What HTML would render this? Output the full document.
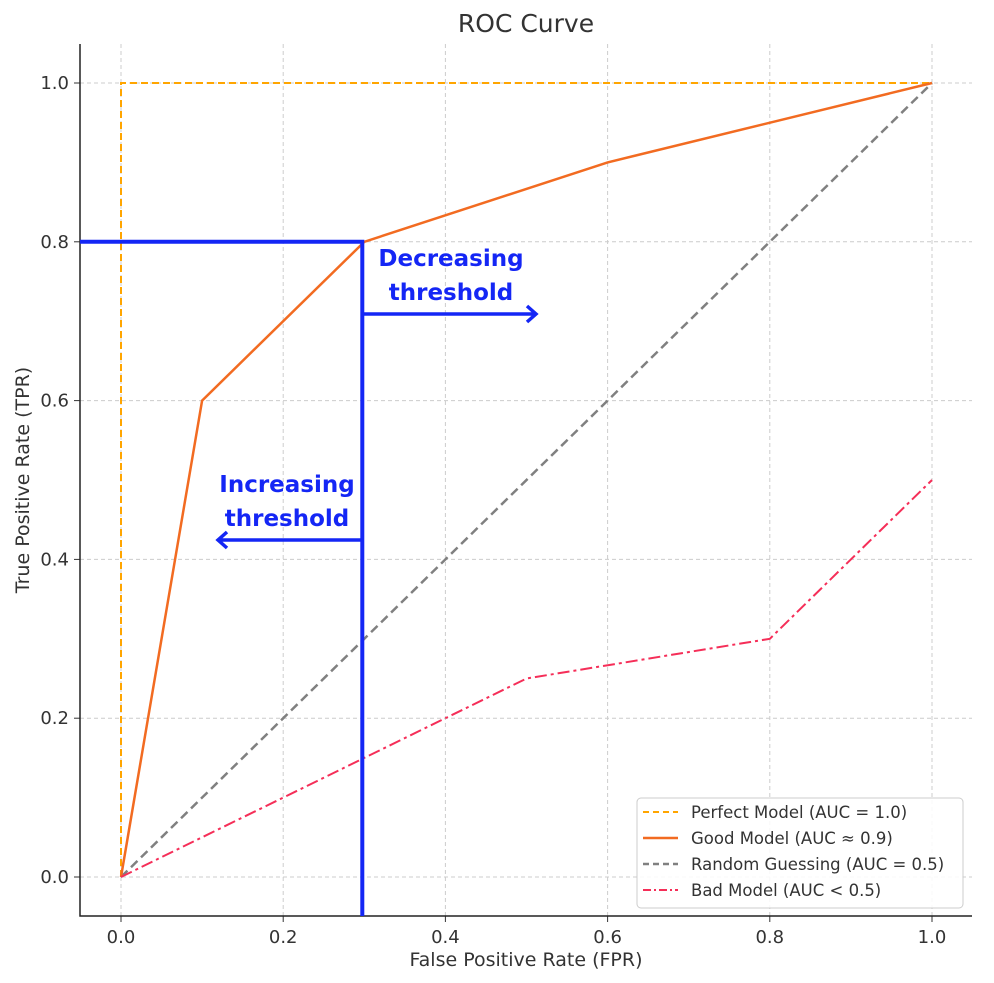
<!DOCTYPE html>
<html><head><meta charset="utf-8"><style>
body{margin:0;background:#fff}
svg{display:block;font-family:"DejaVu Sans","Liberation Sans",sans-serif}
</style></head><body>
<svg id="chart" width="994" height="983" viewBox="0 0 994 983">
<text x="526" y="32" font-size="25" text-anchor="middle" fill="#333">ROC Curve</text>
<g id="grid"></g>
<g id="series"></g>
<g id="axes"></g>
<g id="annot"></g>
<text x="526" y="966" font-size="19" text-anchor="middle" fill="#333">False Positive Rate (FPR)</text>
<text transform="translate(29,480) rotate(-90)" font-size="19" text-anchor="middle" fill="#333">True Positive Rate (TPR)</text>
<g>
<rect x="637" y="798" width="326" height="110" rx="4" fill="#fff" fill-opacity="0.85" stroke="#ccc"/>
<g><line x1="643" y1="812" x2="678" y2="812" stroke="#FFA500" stroke-width="2" stroke-dasharray="6,4"/><text x="691" y="818" font-size="16.5" fill="#333">Perfect Model (AUC = 1.0)</text></g>
<g><line x1="643" y1="838" x2="678" y2="838" stroke="#F26B21" stroke-width="2.5"/><text x="691" y="844" font-size="16.5" fill="#333">Good Model (AUC ≈ 0.9)</text></g>
<g><line x1="643" y1="864" x2="678" y2="864" stroke="#808080" stroke-width="2.5" stroke-dasharray="6,4"/><text x="691" y="870" font-size="16.5" fill="#333">Random Guessing (AUC = 0.5)</text></g>
<g><line x1="643" y1="890" x2="678" y2="890" stroke="#F52E58" stroke-width="2" stroke-dasharray="8,3,2,3"/><text x="691" y="896" font-size="16.5" fill="#333">Bad Model (AUC &lt; 0.5)</text></g>
</g>
</svg>
<script>
const xTicks=[0,0.2,0.4,0.6,0.8,1.0];
const yTicks=[0,0.2,0.4,0.6,0.8,1.0];
const tickLabels=["0.0","0.2","0.4","0.6","0.8","1.0"];
const perfectX=[0,0,1];const perfectY=[0,1,1];
const goodX=[0,0.1,0.3,0.6,1];const goodY=[0,0.6,0.8,0.9,1];
const randomX=[0,1];const randomY=[0,1];
const badX=[0,0.5,0.8,1];const badY=[0,0.25,0.3,0.5];
const thresholdX=0.3, thresholdY=0.8;
const NS="http://www.w3.org/2000/svg";
const L=80,R=972,T=44,B=916;
const sx=v=>121+v*811, sy=v=>877-v*794;
function mk(p,tag,a){const e=document.createElementNS(NS,tag);for(const k in a)e.setAttribute(k,a[k]);p.appendChild(e);return e;}
const grid=document.getElementById('grid'),axes=document.getElementById('axes'),ser=document.getElementById('series'),an=document.getElementById('annot');
xTicks.forEach((v,i)=>{
 const g=mk(grid,'line',{x1:sx(v),x2:sx(v),y1:T,y2:B,stroke:'#ccc','stroke-dasharray':'4,3'});
 
 
 const t=mk(axes,'line',{x1:sx(v),x2:sx(v),y1:B,y2:B+6,stroke:'#333'});
 
 
 const tx=mk(axes,'text',{x:sx(v),y:B+27,'font-size':18,'text-anchor':'middle',fill:'#333'});tx.textContent=tickLabels[i];
 
 
});
yTicks.forEach((v,i)=>{
 const g=mk(grid,'line',{x1:L,x2:R,y1:sy(v),y2:sy(v),stroke:'#ccc','stroke-dasharray':'4,3'});
 
 
 const t=mk(axes,'line',{x1:L-6,x2:L,y1:sy(v),y2:sy(v),stroke:'#333'});
 
 
 const tx=mk(axes,'text',{x:L-11,y:sy(v)+6,'font-size':18,'text-anchor':'end',fill:'#333'});tx.textContent=tickLabels[i];
 
 
});
const ax=mk(axes,'path',{d:`M${L},${T}V${B}H${R}`,fill:'none',stroke:'#222','stroke-width':1.5});


function line(xs,ys,st,name){const d=xs.map((x,i)=>(i?'L':'M')+sx(x)+','+sy(ys[i])).join('');const p=mk(ser,'path',Object.assign({d,fill:'none'},st));
 
 }
line(randomX,randomY,{stroke:'#808080','stroke-width':2.5,'stroke-dasharray':'9,5'},'random-line');
line(perfectX,perfectY,{stroke:'#FFA500','stroke-width':2,'stroke-dasharray':'7,4'},'perfect-line');
line(goodX,goodY,{stroke:'#F26B21','stroke-width':2.5},'good-line');
line(badX,badY,{stroke:'#F52E58','stroke-width':2,'stroke-dasharray':'12,4,3,4'},'bad-line');
const tx0=sx(thresholdX)-2,ty0=sy(thresholdY);
const bl=mk(an,'path',{d:`M${L},${ty0}H${tx0}V${B}`,fill:'none',stroke:'#1426F5','stroke-width':4});


const a1=mk(an,'path',{d:`M${tx0},314H536M527,306L536,314L527,322`,fill:'none',stroke:'#1426F5','stroke-width':3.5});


const a2=mk(an,'path',{d:`M${tx0},540H218M227,532L218,540L227,548`,fill:'none',stroke:'#1426F5','stroke-width':3.5});


[["Decreasing",451,266],["threshold",451,300],["Increasing",287,492],["threshold",287,526]].forEach((t,i)=>{
 const e=mk(an,'text',{x:t[1],y:t[2],'font-size':23,'font-weight':'bold','text-anchor':'middle',fill:'#1426F5'});e.textContent=t[0];
 
 
});
</script>
</body></html>
